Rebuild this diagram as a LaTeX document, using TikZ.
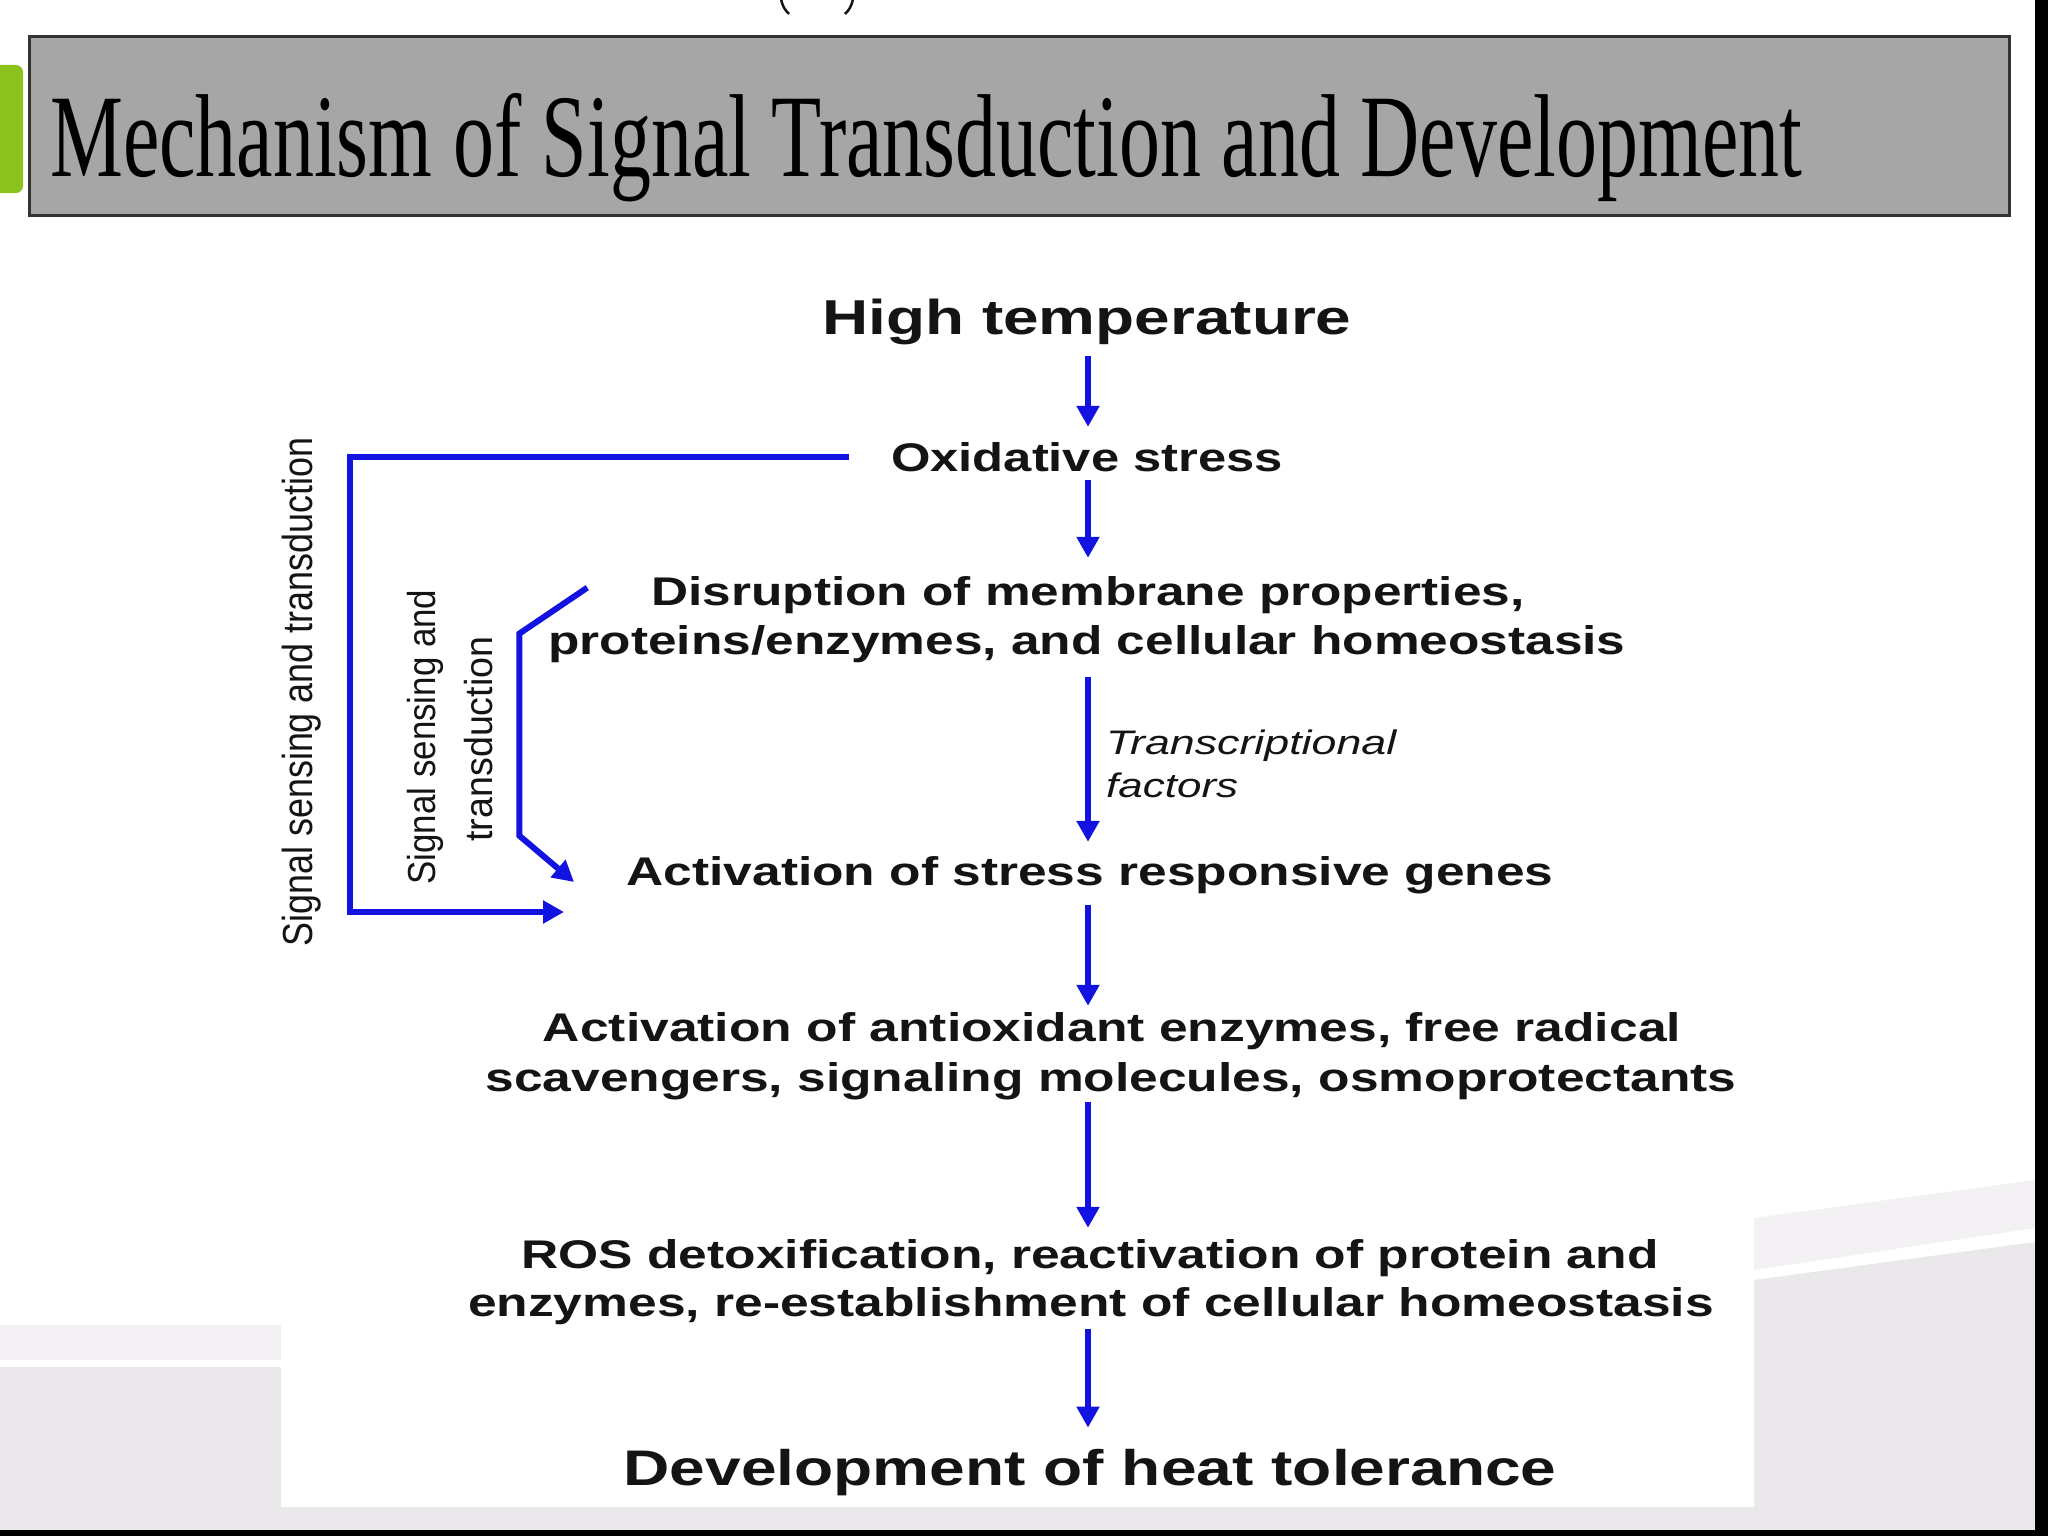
\documentclass[tikz,border=0pt]{standalone}
\usepackage{fontspec}
\setmainfont{Liberation Sans}
\newfontfamily\titlefont{Liberation Serif}
\usepackage{graphicx}
\usetikzlibrary{arrows.meta}
\definecolor{arrowblue}{RGB}{18,18,225}
\definecolor{titlegray}{RGB}{166,166,166}
\definecolor{tabgreen}{RGB}{140,194,30}
\definecolor{bandlight}{RGB}{243,241,244}
\definecolor{banddark}{RGB}{234,232,235}
\definecolor{inkblack}{RGB}{20,20,20}
\newcommand\fitw[2]{\resizebox{#1pt}{\height}{#2}}
\tikzset{
  lbl/.style={inner sep=0pt, anchor=base, text=inkblack},
  bodyfont/.style={font=\bfseries\fontsize{40}{48}\selectfont},
  bigfont/.style={font=\bfseries\fontsize{49}{56}\selectfont},
  blu/.style={draw=arrowblue, line width=6pt},
  arr/.style={blu, -{Triangle[width=22pt,length=21pt]}},
}
\begin{document}
\begin{tikzpicture}[x=1pt,y=-1pt]
\useasboundingbox (0,0) rectangle (2048,1536);
\fill[white] (0,0) rectangle (2048,1536);
% background bands
\fill[bandlight] (0,1325) rectangle (281,1360);
\fill[banddark] (0,1367) rectangle (281,1530);
\fill[bandlight] (1754,1218) -- (2035,1180) -- (2035,1228) -- (1754,1270) -- cycle;
\fill[banddark] (1754,1280) -- (2035,1242) -- (2035,1530) -- (1754,1530) -- cycle;
\fill[banddark] (281,1507) rectangle (1754,1530);
\fill[black] (0,1530) rectangle (2048,1536);
\fill[black] (2035,0) rectangle (2048,1536);
% partial parentheses at top
\draw[line width=2.5pt, inkblack] (781,-2) .. controls (782,6) and (785,10) .. (789,14);
\draw[line width=2.5pt, inkblack] (853,-2) .. controls (852,6) and (849,10) .. (845,14);
% title
\fill[tabgreen, rounded corners=7pt] (-12,65) rectangle (23,193);
\draw[line width=3pt, draw=black!80, fill=titlegray] (29,37) rectangle (2009,215);
\node[inner sep=0pt, anchor=base west, text=black] (title) at (50,176)
  {\fitw{1752}{\titlefont\fontsize{118}{120}\selectfont Mechanism of Signal Transduction and Development}};
% main column
\coordinate (ax) at (1088,0);
\node[lbl, bigfont] (ht) at (1087,334) {\fitw{529}{High temperature}};
\node[lbl, bodyfont] (ox) at (1087,471) {\fitw{392}{Oxidative stress}};
\node[lbl, bodyfont] (dis1) at (1088,605) {\fitw{873}{Disruption of membrane properties,}};
\node[lbl, bodyfont] (dis2) at (1087,654) {\fitw{1077}{proteins/enzymes, and cellular homeostasis}};
\node[inner sep=0pt, anchor=base west, text=inkblack, font=\itshape\fontsize{34}{40}\selectfont] (tf1) at (1106,754) {\fitw{290}{Transcriptional}};
\node[inner sep=0pt, anchor=base west, text=inkblack, font=\itshape\fontsize{34}{40}\selectfont] (tf2) at (1106,797) {\fitw{132}{factors}};
\node[lbl, bodyfont] (act) at (1090,885) {\fitw{927}{Activation of stress responsive genes}};
\node[lbl, bodyfont] (anti1) at (1112,1041) {\fitw{1138}{Activation of antioxidant enzymes, free radical}};
\node[lbl, bodyfont] (anti2) at (1111,1091) {\fitw{1251}{scavengers, signaling molecules, osmoprotectants}};
\node[lbl, bodyfont] (ros1) at (1090,1268) {\fitw{1137}{ROS detoxification, reactivation of protein and}};
\node[lbl, bodyfont] (ros2) at (1091,1316) {\fitw{1246}{enzymes, re-establishment of cellular homeostasis}};
\node[lbl, font=\bfseries\fontsize{50}{56}\selectfont] (dev) at (1090,1485) {\fitw{933}{Development of heat tolerance}};
% side labels
\node[inner sep=0pt, rotate=90, text=inkblack, font=\fontsize{42}{48}\selectfont] (lout) at (302,692) {\fitw{509}{Signal sensing and transduction}};
\node[inner sep=0pt, rotate=90, text=inkblack, font=\fontsize{39}{44}\selectfont] (lin1) at (425,737) {\fitw{295}{Signal sensing and}};
\node[inner sep=0pt, rotate=90, text=inkblack, font=\fontsize{39}{44}\selectfont] (lin2) at (479,739) {\fitw{205}{transduction}};
% vertical arrows
\draw[arr, shorten <=11pt, shorten >=15pt] (ht.south -| ax) -- (ox.north -| ax);
\draw[arr, shorten <=8pt, shorten >=18pt] (ox.south -| ax) -- (dis1.north -| ax);
\draw[arr, shorten <=14pt, shorten >=14pt] (dis2.south -| ax) -- (act.north -| ax);
\draw[arr, shorten <=11pt, shorten >=6pt] (act.south -| ax) -- (anti1.north -| ax);
\draw[arr, shorten <=2pt, shorten >=11pt] (anti2.south -| ax) -- (ros1.north -| ax);
\draw[arr, shorten <=4pt, shorten >=21pt] (ros2.south -| ax) -- (dev.north -| ax);
% feedback connectors
\coordinate (tipO) at (564,912);
\coordinate (tipI) at (574,882);
\draw[arr] ([xshift=-42pt]ox.west) -| ([xshift=-214pt]tipO) -- (tipO);
\draw[arr] ([xshift=-64pt,yshift=7pt]dis1.west) -- ++(-68,46) -- ++(0,202) -- (tipI);
\end{tikzpicture}
\end{document}
